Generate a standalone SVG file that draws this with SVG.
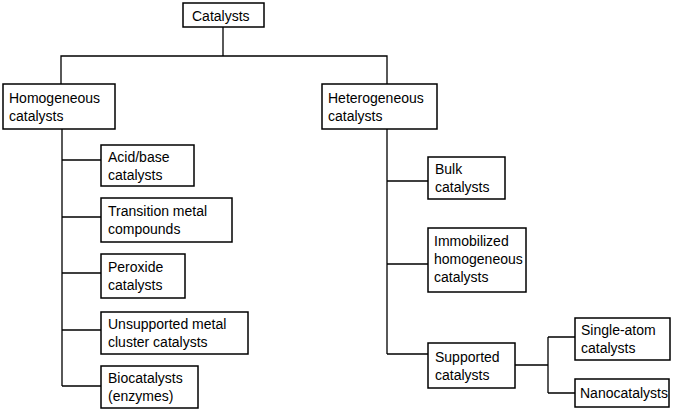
<svg xmlns="http://www.w3.org/2000/svg" width="685" height="410" viewBox="0 0 685 410">
<style>
rect{fill:#fff;stroke:#000;stroke-width:1.5}
text{font-family:"Liberation Sans",Arial,sans-serif;font-size:14px;fill:#000}
#connectors path{fill:none;stroke:#000;stroke-width:1.3}
</style>
<rect x="0" y="0" width="685" height="410" style="stroke:none"/>
<g id="connectors">
<path d="M223,27V56M61,84V56H387V84"/>
<path d="M62,129V386M62,160H101M62,217H101M62,273H101M62,330H101M62,386H101"/>
<path d="M387,129V354M387,181H428M387,264H428M387,354H428"/>
<path d="M515,365H548M548,337V393M548,337H575M548,393H575"/>
</g>
<g id="catalysts"><rect x="183" y="3" width="81" height="24"/><text x="192" y="21">Catalysts</text></g>
<g id="homogeneous"><rect x="3" y="84" width="112" height="45"/><text x="9" y="103">Homogeneous</text><text x="9" y="121">catalysts</text></g>
<g id="heterogeneous"><rect x="322" y="84" width="115" height="45"/><text x="328" y="103">Heterogeneous</text><text x="328" y="121">catalysts</text></g>
<g id="acidbase"><rect x="101" y="145" width="93" height="41"/><text x="108" y="162">Acid/base</text><text x="108" y="180">catalysts</text></g>
<g id="transition"><rect x="101" y="198" width="131" height="44"/><text x="108" y="216">Transition metal</text><text x="108" y="234">compounds</text></g>
<g id="peroxide"><rect x="101" y="254" width="84" height="44"/><text x="108" y="272">Peroxide</text><text x="108" y="290">catalysts</text></g>
<g id="unsupported"><rect x="101" y="312" width="147" height="42"/><text x="108" y="329">Unsupported metal</text><text x="108" y="347">cluster catalysts</text></g>
<g id="bio"><rect x="101" y="366" width="97" height="42"/><text x="108" y="383">Biocatalysts</text><text x="108" y="401">(enzymes)</text></g>
<g id="bulk"><rect x="428" y="157" width="77" height="42"/><text x="435" y="174">Bulk</text><text x="435" y="192">catalysts</text></g>
<g id="immobilized"><rect x="428" y="228" width="98" height="64"/><text x="434" y="246">Immobilized</text><text x="434" y="264">homogeneous</text><text x="434" y="282">catalysts</text></g>
<g id="supported"><rect x="428" y="343" width="87" height="45"/><text x="435" y="362">Supported</text><text x="435" y="380">catalysts</text></g>
<g id="single"><rect x="575" y="318" width="95" height="42"/><text x="581" y="335">Single-atom</text><text x="581" y="353">catalysts</text></g>
<g id="nano"><rect x="575" y="379" width="94" height="28"/><text x="580" y="398">Nanocatalysts</text></g>
</svg>
